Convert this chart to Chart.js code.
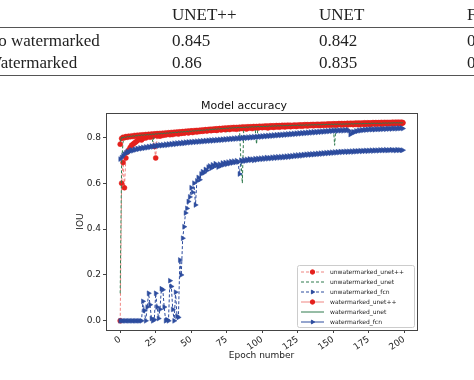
<!DOCTYPE html>
<html>
<head>
<meta charset="utf-8">
<script src="https://cdn.jsdelivr.net/npm/chart.js@4.4.0/dist/chart.umd.min.js"></script>
<style>
body { margin: 0; background: #fff; }
#wrap { position: relative; width: 474px; height: 380px; overflow: hidden; }
#chart { position: absolute; left: 0; top: 0; }
.t { position: absolute; font-family: "Liberation Serif", "Times New Roman", serif; font-size: 17px; color: #222; white-space: nowrap; line-height: 1; z-index: 1; }
.rule { position: absolute; left: 0; width: 474px; height: 1.3px; background: #555; z-index: 1; }
</style>
</head>
<body>
<div id="wrap">
  <div class="t" style="left:172px;top:6px">UNET++</div>
  <div class="t" style="left:319px;top:6px">UNET</div>
  <div class="t" style="left:467px;top:6px">FCN</div>
  <div class="rule" style="top:27px"></div>
  <div class="t" style="left:-14px;top:32px">No watermarked</div>
  <div class="t" style="left:172px;top:32px">0.845</div>
  <div class="t" style="left:319px;top:32px">0.842</div>
  <div class="t" style="left:467px;top:32px">0</div>
  <div class="t" style="left:-14px;top:54px">Watermarked</div>
  <div class="t" style="left:172px;top:54px">0.86</div>
  <div class="t" style="left:319px;top:54px">0.835</div>
  <div class="t" style="left:467px;top:54px">0</div>
  <div class="rule" style="top:75px"></div>
  <canvas id="chart" width="474" height="380"></canvas>
</div>
<script>
// epochs 0..199
var epochs = [];
for (var i = 0; i < 200; i++) epochs.push(i);

var xTicks = [0, 25, 50, 75, 100, 125, 150, 175, 200];
var yTicks = [0.0, 0.2, 0.4, 0.6, 0.8];

var seriesNames = ['unwatermarked_unet++', 'unwatermarked_unet', 'unwatermarked_fcn',
                   'watermarked_unet++', 'watermarked_unet', 'watermarked_fcn'];

var uwUnetpp = [
  0.000,0.600,0.690,0.580,0.710,0.735,0.745,0.755,0.765,0.770,0.775,0.780,0.785,0.790,0.792,0.788,0.795,0.800,0.797,0.803,
  0.805,0.800,0.808,0.803,0.760,0.710,0.806,0.810,0.805,0.812,0.808,0.815,0.810,0.813,0.817,0.811,0.816,0.812,0.818,0.815,
  0.819,0.814,0.820,0.817,0.822,0.818,0.821,0.825,0.819,0.823,0.826,0.821,0.824,0.828,0.823,0.827,0.825,0.830,0.826,0.829,
  0.832,0.827,0.830,0.834,0.829,0.833,0.831,0.835,0.830,0.834,0.837,0.832,0.835,0.838,0.833,0.836,0.839,0.834,0.837,0.840,
  0.836,0.839,0.835,0.840,0.837,0.841,0.838,0.842,0.839,0.836,0.842,0.840,0.843,0.838,0.844,0.841,0.845,0.840,0.843,0.846,
  0.842,0.845,0.843,0.847,0.841,0.846,0.844,0.848,0.843,0.847,0.845,0.849,0.844,0.848,0.846,0.850,0.845,0.849,0.847,0.851,
  0.846,0.850,0.848,0.852,0.847,0.851,0.849,0.853,0.848,0.852,0.850,0.854,0.849,0.853,0.851,0.855,0.850,0.854,0.852,0.856,
  0.851,0.855,0.853,0.856,0.852,0.855,0.854,0.857,0.852,0.856,0.854,0.857,0.853,0.856,0.855,0.858,0.854,0.857,0.855,0.858,
  0.854,0.857,0.856,0.859,0.855,0.858,0.856,0.859,0.855,0.858,0.857,0.860,0.856,0.859,0.857,0.860,0.856,0.859,0.858,0.861,
  0.857,0.860,0.858,0.861,0.857,0.860,0.859,0.862,0.858,0.861,0.859,0.862,0.858,0.861,0.860,0.863,0.859,0.862,0.860,0.862
];

var uwUnet = [
  0.120,0.690,0.780,0.790,0.795,0.792,0.798,0.800,0.796,0.802,0.799,0.804,0.801,0.806,0.803,0.807,0.804,0.808,0.805,0.809,
  0.806,0.810,0.807,0.780,0.809,0.812,0.808,0.813,0.810,0.814,0.811,0.815,0.812,0.816,0.813,0.817,0.814,0.818,0.815,0.819,
  0.816,0.820,0.817,0.821,0.818,0.822,0.819,0.823,0.820,0.824,0.821,0.825,0.822,0.826,0.823,0.827,0.824,0.828,0.825,0.829,
  0.826,0.830,0.827,0.831,0.828,0.832,0.829,0.833,0.830,0.834,0.831,0.835,0.832,0.836,0.833,0.820,0.834,0.837,0.835,0.838,
  0.836,0.839,0.837,0.840,0.838,0.700,0.600,0.839,0.841,0.838,0.842,0.839,0.843,0.840,0.844,0.841,0.770,0.842,0.845,0.843,
  0.844,0.841,0.845,0.842,0.846,0.843,0.847,0.844,0.846,0.843,0.848,0.845,0.847,0.844,0.849,0.846,0.848,0.845,0.850,0.846,
  0.849,0.846,0.850,0.847,0.849,0.846,0.851,0.848,0.850,0.847,0.852,0.849,0.851,0.848,0.852,0.849,0.853,0.850,0.852,0.849,
  0.853,0.850,0.852,0.849,0.854,0.851,0.853,0.850,0.854,0.851,0.853,0.765,0.854,0.851,0.855,0.852,0.854,0.851,0.855,0.852,
  0.854,0.851,0.856,0.853,0.855,0.852,0.856,0.853,0.855,0.852,0.857,0.854,0.856,0.853,0.857,0.854,0.856,0.853,0.858,0.855,
  0.857,0.854,0.858,0.855,0.857,0.854,0.858,0.855,0.859,0.856,0.858,0.855,0.859,0.856,0.858,0.855,0.859,0.856,0.860,0.857
];

var uwFcn = [
  0.000,0.000,0.000,0.000,0.000,0.000,0.000,0.000,0.000,0.000,0.000,0.000,0.000,0.000,0.000,0.000,0.085,0.045,0.000,0.060,
  0.120,0.070,0.010,0.000,0.005,0.120,0.060,0.010,0.050,0.140,0.135,0.060,0.000,0.005,0.000,0.175,0.150,0.050,0.000,0.125,
  0.020,0.015,0.265,0.200,0.360,0.410,0.470,0.490,0.520,0.540,0.580,0.560,0.600,0.505,0.610,0.625,0.615,0.640,0.650,0.645,
  0.660,0.655,0.670,0.675,0.665,0.680,0.672,0.685,0.678,0.670,0.683,0.676,0.688,0.680,0.690,0.682,0.692,0.685,0.695,0.688,
  0.696,0.690,0.698,0.692,0.640,0.700,0.694,0.702,0.696,0.704,0.698,0.706,0.700,0.705,0.699,0.707,0.701,0.708,0.703,0.709,
  0.704,0.710,0.705,0.712,0.706,0.711,0.707,0.713,0.708,0.714,0.709,0.715,0.710,0.716,0.711,0.717,0.712,0.718,0.713,0.719,
  0.714,0.720,0.716,0.722,0.717,0.723,0.718,0.724,0.719,0.725,0.721,0.726,0.722,0.727,0.723,0.728,0.724,0.729,0.725,0.730,
  0.726,0.731,0.727,0.732,0.728,0.733,0.729,0.734,0.730,0.735,0.731,0.736,0.732,0.737,0.733,0.738,0.734,0.738,0.735,0.739,
  0.735,0.739,0.736,0.740,0.736,0.741,0.737,0.741,0.738,0.742,0.738,0.742,0.739,0.743,0.739,0.743,0.740,0.744,0.740,0.744,
  0.741,0.744,0.741,0.745,0.742,0.745,0.742,0.746,0.742,0.745,0.743,0.746,0.743,0.745,0.742,0.746,0.743,0.745,0.743,0.744
];

var wUnetpp = [
  0.770,0.795,0.800,0.798,0.803,0.800,0.805,0.802,0.806,0.803,0.808,0.805,0.809,0.806,0.810,0.807,0.811,0.808,0.812,0.809,
  0.813,0.810,0.814,0.811,0.815,0.812,0.816,0.813,0.817,0.814,0.818,0.815,0.819,0.816,0.820,0.817,0.821,0.818,0.822,0.819,
  0.823,0.820,0.824,0.821,0.825,0.822,0.826,0.823,0.827,0.824,0.828,0.825,0.829,0.826,0.830,0.827,0.831,0.828,0.832,0.829,
  0.833,0.830,0.834,0.831,0.835,0.832,0.836,0.833,0.837,0.834,0.838,0.835,0.839,0.836,0.840,0.837,0.841,0.838,0.842,0.839,
  0.843,0.840,0.843,0.841,0.844,0.841,0.845,0.842,0.845,0.843,0.846,0.843,0.846,0.844,0.847,0.844,0.847,0.845,0.848,0.845,
  0.848,0.846,0.849,0.846,0.849,0.847,0.850,0.847,0.850,0.848,0.851,0.848,0.851,0.849,0.852,0.849,0.852,0.850,0.853,0.850,
  0.852,0.850,0.853,0.850,0.853,0.851,0.854,0.851,0.854,0.852,0.855,0.852,0.855,0.853,0.855,0.853,0.856,0.853,0.856,0.854,
  0.856,0.853,0.857,0.854,0.857,0.855,0.858,0.855,0.858,0.856,0.859,0.856,0.859,0.857,0.860,0.857,0.860,0.858,0.860,0.858,
  0.861,0.858,0.861,0.859,0.861,0.859,0.862,0.859,0.862,0.860,0.862,0.860,0.863,0.860,0.863,0.861,0.863,0.861,0.864,0.861,
  0.864,0.862,0.864,0.862,0.865,0.862,0.865,0.863,0.865,0.863,0.865,0.863,0.866,0.863,0.866,0.864,0.866,0.864,0.866,0.864
];

var wUnet = [
  0.780,0.800,0.797,0.802,0.799,0.804,0.801,0.806,0.803,0.807,0.804,0.808,0.806,0.810,0.807,0.811,0.808,0.812,0.809,0.813,
  0.810,0.814,0.811,0.815,0.812,0.816,0.813,0.817,0.814,0.818,0.815,0.819,0.816,0.820,0.817,0.821,0.818,0.822,0.819,0.823,
  0.820,0.824,0.821,0.825,0.822,0.826,0.823,0.827,0.824,0.828,0.825,0.829,0.826,0.830,0.827,0.831,0.828,0.832,0.829,0.833,
  0.830,0.834,0.831,0.835,0.832,0.836,0.833,0.837,0.834,0.838,0.835,0.839,0.836,0.840,0.837,0.841,0.838,0.842,0.839,0.842,
  0.840,0.843,0.840,0.844,0.841,0.844,0.842,0.845,0.842,0.846,0.843,0.846,0.844,0.847,0.844,0.847,0.845,0.848,0.845,0.848,
  0.846,0.849,0.846,0.849,0.847,0.850,0.847,0.850,0.848,0.851,0.848,0.851,0.849,0.852,0.849,0.852,0.850,0.852,0.850,0.853,
  0.850,0.853,0.851,0.853,0.851,0.854,0.851,0.854,0.852,0.854,0.852,0.855,0.852,0.855,0.853,0.855,0.853,0.856,0.853,0.856,
  0.854,0.856,0.854,0.857,0.854,0.857,0.855,0.857,0.855,0.858,0.855,0.858,0.856,0.858,0.856,0.859,0.856,0.859,0.857,0.859,
  0.857,0.859,0.857,0.860,0.857,0.860,0.858,0.860,0.858,0.861,0.858,0.861,0.859,0.861,0.859,0.861,0.859,0.862,0.860,0.862,
  0.860,0.862,0.860,0.862,0.860,0.863,0.861,0.863,0.861,0.863,0.861,0.863,0.862,0.864,0.862,0.864,0.862,0.864,0.862,0.864
];

var wFcn = [
  0.705,0.712,0.720,0.726,0.732,0.738,0.735,0.742,0.745,0.741,0.748,0.745,0.751,0.748,0.754,0.750,0.756,0.752,0.758,0.754,
  0.760,0.756,0.762,0.758,0.764,0.760,0.766,0.762,0.767,0.763,0.768,0.764,0.770,0.765,0.771,0.767,0.772,0.768,0.774,0.769,
  0.775,0.771,0.776,0.772,0.778,0.773,0.779,0.775,0.780,0.776,0.781,0.777,0.782,0.778,0.783,0.779,0.784,0.780,0.785,0.781,
  0.786,0.782,0.787,0.783,0.788,0.784,0.789,0.785,0.790,0.786,0.791,0.787,0.792,0.788,0.793,0.789,0.794,0.790,0.795,0.791,
  0.796,0.792,0.797,0.793,0.798,0.794,0.799,0.795,0.800,0.796,0.801,0.797,0.802,0.798,0.803,0.799,0.804,0.800,0.805,0.801,
  0.806,0.802,0.807,0.803,0.808,0.804,0.809,0.805,0.810,0.806,0.811,0.807,0.812,0.808,0.813,0.809,0.814,0.810,0.815,0.811,
  0.816,0.812,0.817,0.813,0.818,0.814,0.819,0.815,0.820,0.816,0.821,0.817,0.822,0.818,0.823,0.819,0.824,0.820,0.825,0.821,
  0.826,0.822,0.827,0.823,0.828,0.824,0.829,0.825,0.830,0.826,0.831,0.827,0.831,0.827,0.832,0.828,0.832,0.828,0.833,0.829,
  0.833,0.829,0.812,0.818,0.824,0.822,0.828,0.826,0.831,0.828,0.833,0.830,0.834,0.831,0.835,0.832,0.836,0.833,0.836,0.833,
  0.837,0.834,0.837,0.834,0.838,0.835,0.838,0.835,0.839,0.836,0.839,0.836,0.840,0.837,0.840,0.837,0.841,0.838,0.841,0.838
];

var red = '#e4201c', redLine = 'rgba(228,32,28,0.55)';
var green = '#2e7a4c';
var blue = '#2d4c9e';
var axisFont = { family: 'DejaVu Sans', size: 9 };

function makeSet(label, data, color, lineColor, dash, style, radius, ord) {
  return {
    label: label,
    data: data,
    borderColor: lineColor,
    borderWidth: 1,
    borderDash: dash,
    pointStyle: style,
    pointRotation: style === 'triangle' ? 90 : 0,
    pointRadius: radius,
    pointBackgroundColor: color,
    pointBorderColor: color,
    pointBorderWidth: 0.5,
    fill: false,
    tension: 0,
    order: ord
  };
}

// frame around the plot, like matplotlib spines
var frame = {
  id: 'frame',
  afterDatasetsDraw: function(chart) {
    var a = chart.chartArea, ctx = chart.ctx;
    ctx.save();
    ctx.strokeStyle = '#444';
    ctx.lineWidth = 1;
    ctx.strokeRect(Math.round(a.left) + 0.5, Math.round(a.top) + 0.5,
                   Math.round(a.right - a.left), Math.round(a.bottom - a.top));
    ctx.restore();
  }
};

// legend drawn inside the lower right corner
var innerLegend = {
  id: 'innerLegend',
  afterDraw: function(chart) {
    var a = chart.chartArea, ctx = chart.ctx;
    var w = 117, h = 62;
    var x0 = a.right - w - 3, y0 = a.bottom - h - 3;
    ctx.save();
    ctx.fillStyle = 'rgba(255,255,255,0.85)';
    ctx.strokeStyle = '#cccccc';
    ctx.lineWidth = 1;
    ctx.beginPath();
    ctx.roundRect(x0 + 0.5, y0 + 0.5, w, h, 2);
    ctx.fill();
    ctx.stroke();
    ctx.font = '6px "DejaVu Sans"';
    ctx.textBaseline = 'middle';
    chart.data.datasets.forEach(function(ds, i) {
      var y = y0 + 7 + i * 10;
      ctx.strokeStyle = ds.borderColor;
      ctx.lineWidth = 1;
      ctx.setLineDash(ds.borderDash);
      ctx.beginPath();
      ctx.moveTo(x0 + 4, y);
      ctx.lineTo(x0 + 27, y);
      ctx.stroke();
      ctx.setLineDash([]);
      if (ds.pointRadius > 0) {
        ctx.fillStyle = ds.pointBackgroundColor;
        ctx.strokeStyle = ds.pointBorderColor;
        Chart.helpers.drawPoint(ctx, {
          pointStyle: ds.pointStyle, rotation: ds.pointRotation,
          radius: 2.2, borderWidth: 0.5
        }, x0 + 15.5, y);
      }
      ctx.fillStyle = '#222';
      ctx.fillText(ds.label, x0 + 33, y);
    });
    ctx.restore();
  }
};

new Chart(document.getElementById('chart'), {
  type: 'line',
  data: {
    labels: epochs,
    datasets: [
      makeSet(seriesNames[0], uwUnetpp, red, redLine, [3, 2], 'circle', 2.5, 5),
      makeSet(seriesNames[1], uwUnet, green, green, [3, 2], 'circle', 0, 4),
      makeSet(seriesNames[2], uwFcn, blue, blue, [3, 2], 'triangle', 2.8, 3),
      makeSet(seriesNames[3], wUnetpp, red, redLine, [], 'circle', 2.5, 2),
      makeSet(seriesNames[4], wUnet, green, green, [], 'circle', 0, 1),
      makeSet(seriesNames[5], wFcn, blue, blue, [], 'triangle', 2.8, 0)
    ]
  },
  options: {
    responsive: false,
    animation: false,
    layout: { padding: { left: 71, right: 57, top: 100, bottom: 14.6 } },
    plugins: {
      legend: { display: false },
      tooltip: { enabled: false },
      title: {
        display: true,
        text: 'Model accuracy',
        color: '#111',
        font: { family: 'DejaVu Sans', size: 11, weight: 'normal' },
        padding: { top: 0, bottom: 0 }
      }
    },
    scales: {
      x: {
        type: 'linear',
        min: -10,
        max: 209,
        afterBuildTicks: function(s) { s.ticks = xTicks.map(function(v) { return { value: v }; }); },
        afterFit: function(s) { s.height = 35.4; },
        ticks: { minRotation: 35, maxRotation: 35, color: '#222', font: axisFont, padding: 1 },
        grid: { drawOnChartArea: false, tickLength: 3, color: '#444' },
        border: { color: '#444' },
        title: { display: true, text: 'Epoch number', color: '#222', font: axisFont, padding: { top: 0, bottom: 4 } }
      },
      y: {
        min: -0.04,
        max: 0.905,
        afterBuildTicks: function(s) { s.ticks = yTicks.map(function(v) { return { value: v }; }); },
        afterFit: function(s) { s.width = 35; },
        ticks: { color: '#222', font: axisFont, padding: 2, callback: function(v) { return v.toFixed(1); } },
        grid: { drawOnChartArea: false, tickLength: 3, color: '#444' },
        border: { color: '#444' },
        title: { display: true, text: 'IOU', color: '#222', font: axisFont, padding: { top: 4, bottom: 4 } }
      }
    }
  },
  plugins: [frame, innerLegend]
});
</script>
</body>
</html>
